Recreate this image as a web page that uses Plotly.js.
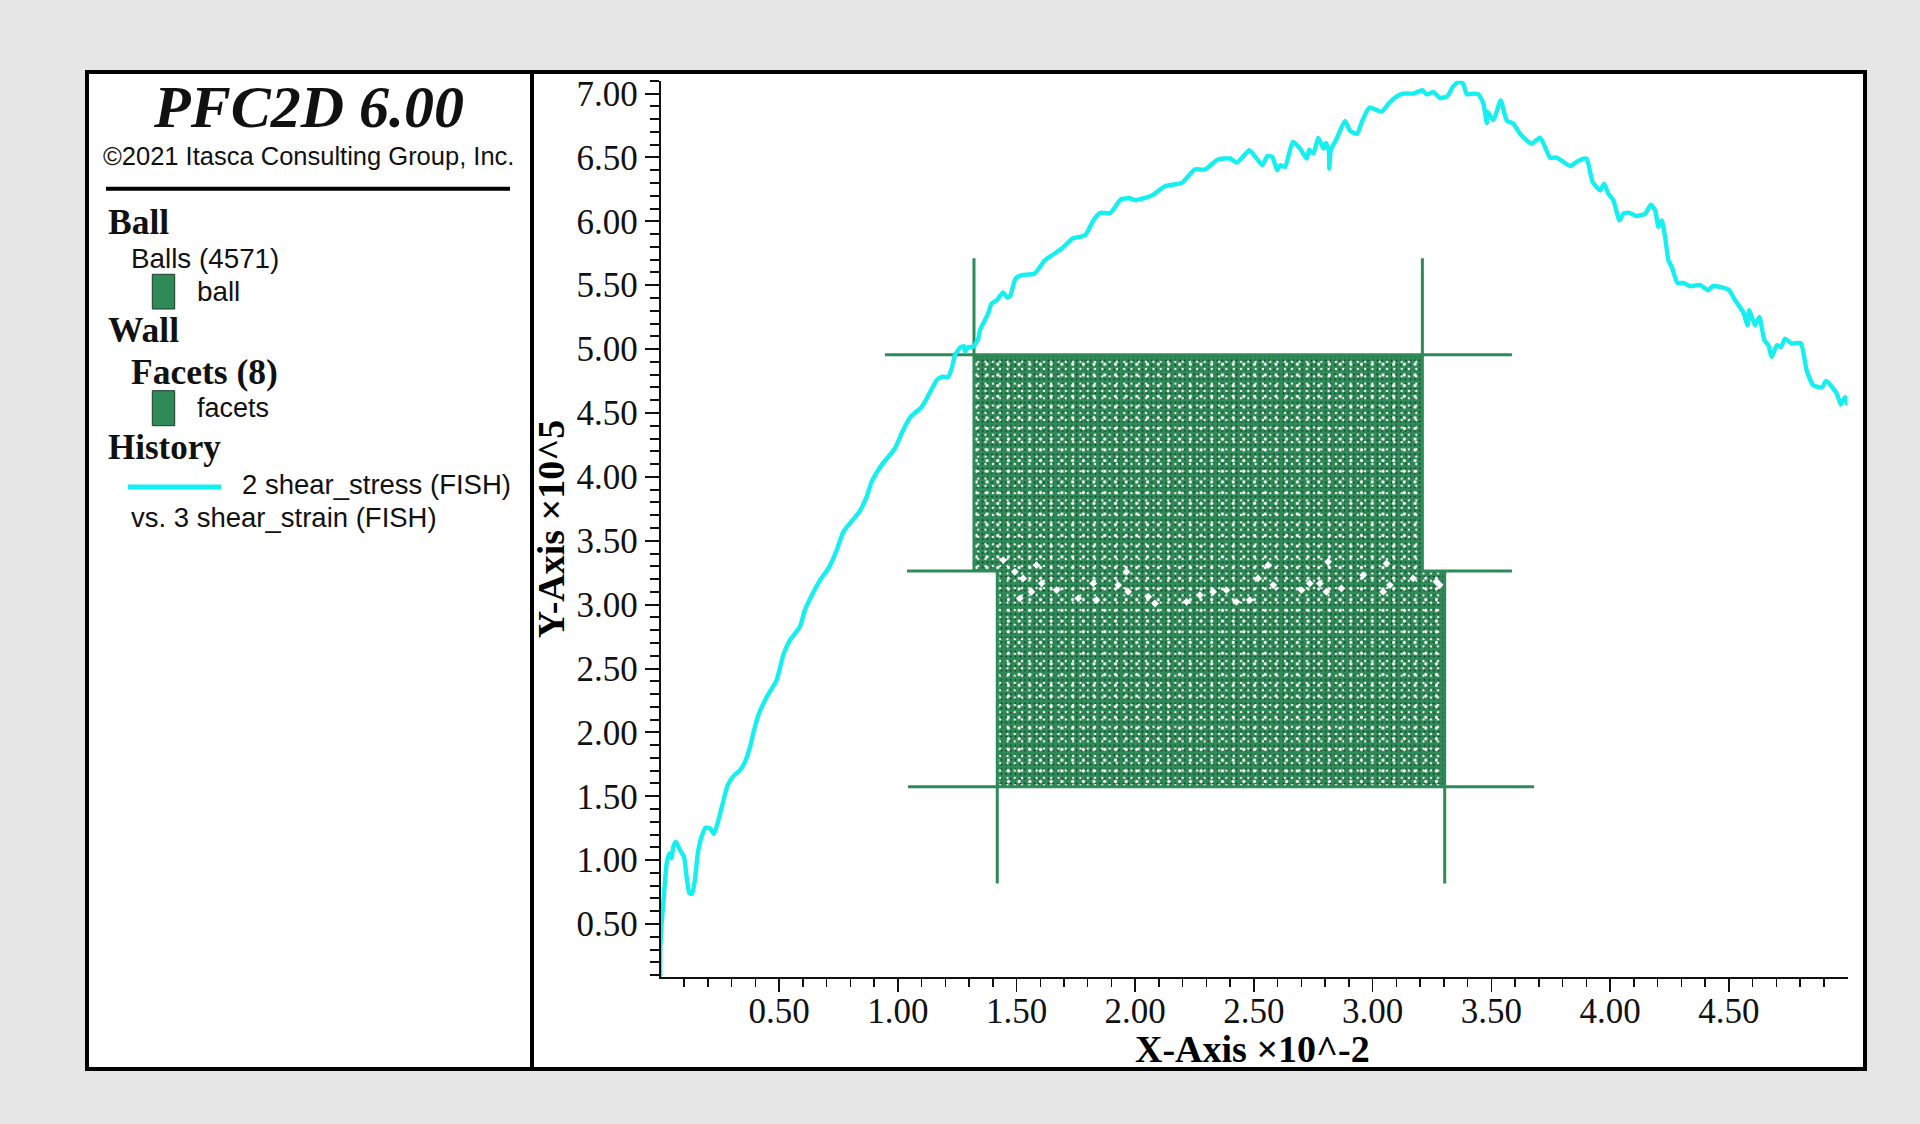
<!DOCTYPE html>
<html>
<head>
<meta charset="utf-8">
<script src="https://cdn.plot.ly/plotly-3.0.1.min.js"></script>
<style>html,body{margin:0;padding:0;background:#e6e6e6;overflow:hidden}#c{width:1920px;height:1124px}</style>
</head>
<body>
<div id="c"></div>
<script>
// History 2: shear_stress vs. shear_strain
var shearStrain = [0.000,0.000,0.006,0.016,0.027,0.038,0.047,0.055,0.066,0.083,0.100,0.111,0.123,0.134,0.146,0.158,0.174,0.191,0.210,0.226,0.245,0.263,0.284,0.308,0.336,0.357,0.378,0.395,0.413,0.445,0.490,0.518,0.546,0.588,0.609,0.638,0.673,0.712,0.743,0.771,0.838,0.869,0.890,0.932,0.988,1.016,1.052,1.101,1.122,1.164,1.185,1.213,1.227,1.241,1.262,1.279,1.283,1.297,1.318,1.339,1.346,1.363,1.381,1.395,1.417,1.443,1.461,1.473,1.496,1.523,1.576,1.620,1.691,1.736,1.789,1.824,1.851,1.895,1.939,1.975,2.001,2.072,2.125,2.196,2.250,2.294,2.347,2.400,2.427,2.453,2.480,2.506,2.535,2.556,2.577,2.597,2.610,2.631,2.663,2.694,2.722,2.733,2.750,2.771,2.792,2.803,2.815,2.817,2.823,2.848,2.883,2.905,2.935,2.954,2.986,3.038,3.066,3.101,3.129,3.171,3.209,3.227,3.255,3.283,3.314,3.337,3.365,3.382,3.396,3.424,3.445,3.466,3.480,3.483,3.508,3.539,3.564,3.592,3.620,3.669,3.705,3.747,3.775,3.831,3.859,3.887,3.901,3.926,3.957,3.974,3.992,4.013,4.039,4.055,4.077,4.112,4.147,4.171,4.189,4.203,4.217,4.231,4.245,4.259,4.283,4.308,4.336,4.378,4.411,4.434,4.498,4.526,4.561,4.578,4.585,4.610,4.628,4.649,4.666,4.680,4.701,4.719,4.736,4.764,4.802,4.827,4.855,4.891,4.909,4.954,4.971,4.989,5.000];
var shearStress = [0.088,0.296,0.505,0.740,0.975,1.053,1.014,1.105,1.144,1.079,1.027,0.870,0.740,0.735,0.844,1.053,1.183,1.254,1.248,1.204,1.314,1.444,1.587,1.658,1.705,1.770,1.887,2.018,2.135,2.266,2.409,2.605,2.722,2.827,2.957,3.074,3.192,3.296,3.427,3.570,3.726,3.844,3.961,4.092,4.222,4.339,4.465,4.548,4.613,4.757,4.783,4.783,4.848,4.952,5.012,5.023,4.980,5.017,5.017,5.083,5.148,5.213,5.279,5.357,5.383,5.443,5.404,5.414,5.553,5.579,5.592,5.696,5.787,5.866,5.892,6.009,6.066,6.066,6.171,6.181,6.166,6.205,6.275,6.301,6.406,6.406,6.484,6.492,6.460,6.505,6.557,6.505,6.439,6.510,6.505,6.400,6.439,6.426,6.621,6.569,6.491,6.561,6.530,6.653,6.569,6.613,6.556,6.413,6.556,6.647,6.786,6.707,6.686,6.778,6.890,6.859,6.921,6.979,7.000,7.000,7.026,6.994,7.012,6.966,6.979,7.052,7.099,7.073,6.994,7.000,6.994,6.921,6.770,6.856,6.791,6.947,6.791,6.765,6.686,6.608,6.655,6.499,6.499,6.433,6.465,6.491,6.491,6.308,6.243,6.295,6.217,6.165,6.008,6.060,6.068,6.042,6.060,6.131,6.087,5.956,6.008,5.878,5.695,5.643,5.518,5.518,5.492,5.502,5.461,5.494,5.466,5.382,5.286,5.187,5.304,5.187,5.252,5.069,5.030,4.939,5.030,5.017,5.082,5.043,5.048,4.834,4.717,4.699,4.751,4.652,4.566,4.626,4.560];

// Ball assembly outline and the eight wall facets (null separates facets)
var assemblyX = [1.321,3.209,3.209,3.303,3.303,1.419,1.419,1.321,1.321];
var assemblyY = [4.955,4.955,3.264,3.264,1.574,1.574,3.264,3.264,4.955];
var facetX = [0.946,3.586,null,1.321,1.321,null,3.209,3.209,null,1.039,1.419,null,3.209,3.586,null,1.419,1.419,null,3.303,3.303,null,1.043,3.679];
var facetY = [4.955,4.955,null,5.711,3.264,null,5.711,3.264,null,3.264,3.264,null,3.264,3.264,null,3.264,0.817,null,3.264,0.817,null,1.574,1.574];

// Larger voids visible along the shear band
var voidX = [1.444,1.584,1.493,1.606,1.528,1.928,1.563,1.823,1.970,2.055,1.760,2.083,2.328,2.272,2.216,1.514,1.837,1.963,1.669,2.560,2.517,2.581,2.700,2.735,2.805,2.868,2.777,2.384,2.426,2.482,3.268,3.170,3.282,3.072,3.044,2.812,3.058,2.960];
var voidY = [3.349,3.309,3.257,3.166,3.205,3.153,3.101,3.166,3.101,3.062,3.049,3.009,3.101,3.075,3.022,3.049,3.036,3.257,3.114,3.309,3.205,3.153,3.114,3.166,3.101,3.127,3.166,3.114,3.022,3.036,3.179,3.205,3.153,3.153,3.101,3.335,3.322,3.231];

var xTickVals = [0.5,1,1.5,2,2.5,3,3.5,4,4.5];
var xTickText = ['0.50','1.00','1.50','2.00','2.50','3.00','3.50','4.00','4.50'];
var yTickVals = [0.5,1,1.5,2,2.5,3,3.5,4,4.5,5,5.5,6,6.5,7];
var yTickText = ['0.50','1.00','1.50','2.00','2.50','3.00','3.50','4.00','4.50','5.00','5.50','6.00','6.50','7.00'];

var SERIF = '"Liberation Serif","Times New Roman",serif';
var SANS = '"Liberation Sans",Arial,sans-serif';
var GREEN = '#2e8b57', CYAN = '#14f0f0', INK = '#111111';
var W = 1920, H = 1124;
function fx(p){return p/W;}
function fy(p){return 1-p/H;}

function txt(s,x,base,size,opts){
  opts = opts||{};
  return {text:s, xref:'paper', yref:'paper', x:fx(x), y:fy(base+size*0.215+1),
    xanchor:opts.anchor||'left', yanchor:'bottom', showarrow:false, borderpad:0,
    font:{family:opts.sans===false?SERIF:SANS, size:size, color:opts.color||INK}};
}
function head(s,x,base,size){
  return txt('<b>'+s+'</b>',x,base+1,size,{sans:false});
}
var annotations = [
  txt('<b><i>PFC2D 6.00</i></b>',308,127,60,{sans:false,anchor:'center'}),
  txt('©2021 Itasca Consulting Group, Inc.',102,165,25.5),
  head('Ball',107,233,35.5),
  txt('Balls (4571)',130,268,27.8),
  txt('ball',196,300.7,27.8),
  head('Wall',107,341.7,35.5),
  head('Facets (8)',130,383.3,35.5),
  txt('facets',195.5,417,27),
  head('History',107,458,35),
  txt('2 shear_stress (FISH)',240.5,493.7,27.5),
  txt('vs. 3 shear_strain (FISH)',129.7,526.7,27.5),
  txt('<b>X-Axis ×10^-2</b>',1252.5,1062,38,{sans:false,anchor:'center',color:'#000'})
];
function rect(x0,y0,x1,y1,fill,lc,lw){
  return {type:'rect',xref:'paper',yref:'paper',x0:fx(x0),x1:fx(x1),y0:fy(y0),y1:fy(y1),
    fillcolor:fill,line:{color:lc,width:lw},layer:'below'};
}
function seg(x0,y0,x1,y1,c,w){
  return {type:'line',xref:'paper',yref:'paper',x0:fx(x0),x1:fx(x1),y0:fy(y0),y1:fy(y1),
    line:{color:c,width:w},layer:'below'};
}
var shapes = [
  rect(87,72,1865,1069,'#ffffff','#000000',4),
  seg(532,72,532,1069,'#000000',4),
  seg(106,188.7,510,188.7,'#000000',4),
  rect(152.3,274.3,174.7,309,GREEN,'#1a3a28',1),
  rect(152.3,390.7,174.7,425.7,GREEN,'#1a3a28',1),
  seg(128,487,221,487,CYAN,5)
];

function grain(fg,size,sol,first){
  return {x:assemblyX,y:assemblyY,mode:'lines',fill:'toself',fillcolor:first?GREEN:'rgba(0,0,0,0)',line:{width:0},hoverinfo:'skip',
    fillpattern:{shape:'.',bgcolor:first?GREEN:'rgba(0,0,0,0)',fgcolor:fg,size:size,solidity:sol,fillmode:'replace'}};
}
var traces = [
  grain('#0f2f1e',4.7,0.10,true),
  grain('#ffffff',7.3,0.09),
  grain('#ffffff',10.7,0.07),
  {x:voidX,y:voidY,mode:'markers',marker:{symbol:'diamond',size:6,color:'#ffffff'},hoverinfo:'skip'},
  {x:facetX,y:facetY,mode:'lines',line:{color:GREEN,width:3},connectgaps:false,hoverinfo:'skip'},
  {x:shearStrain,y:shearStress,mode:'lines',line:{color:CYAN,width:4.4,shape:'spline',smoothing:0.5},cliponaxis:false,name:'2 shear_stress (FISH)'}
];

var layout = {
  width:W,height:H,margin:{l:0,r:0,t:0,b:0},
  paper_bgcolor:'#e6e6e6',plot_bgcolor:'rgba(0,0,0,0)',showlegend:false,
  xaxis:{domain:[fx(660.7),fx(1847.5)],range:[0.0019,4.999],automargin:false,
    showline:true,linecolor:'#111',linewidth:1.5,showgrid:false,zeroline:false,
    tickmode:'array',tickvals:xTickVals,ticktext:xTickText,ticks:'outside',ticklen:13,tickwidth:1.5,tickcolor:'#111',
    ticklabelstandoff:-11,
    tickfont:{family:SERIF,size:35,color:INK},
    minor:{dtick:0.1,tick0:0,ticks:'outside',ticklen:8,tickwidth:1.5,tickcolor:'#111',showgrid:false}},
  yaxis:{domain:[fy(977.3),fy(80.7)],range:[0.083,7.101],automargin:false,
    showline:true,linecolor:'#111',linewidth:2,showgrid:false,zeroline:false,
    tickmode:'array',tickvals:yTickVals,ticktext:yTickText,ticks:'outside',ticklen:14,tickwidth:2,tickcolor:'#111',
    tickfont:{family:SERIF,size:35,color:INK},
    minor:{dtick:0.1,tick0:0,ticks:'outside',ticklen:9,tickwidth:2,tickcolor:'#111',showgrid:false},
    title:{text:'<b>Y-Axis ×10^5</b>',font:{family:SERIF,size:38,color:'#000'},standoff:0}},
  shapes:shapes,annotations:annotations
};
Plotly.newPlot('c',traces,layout,{displayModeBar:false,staticPlot:true});
</script>
</body>
</html>
